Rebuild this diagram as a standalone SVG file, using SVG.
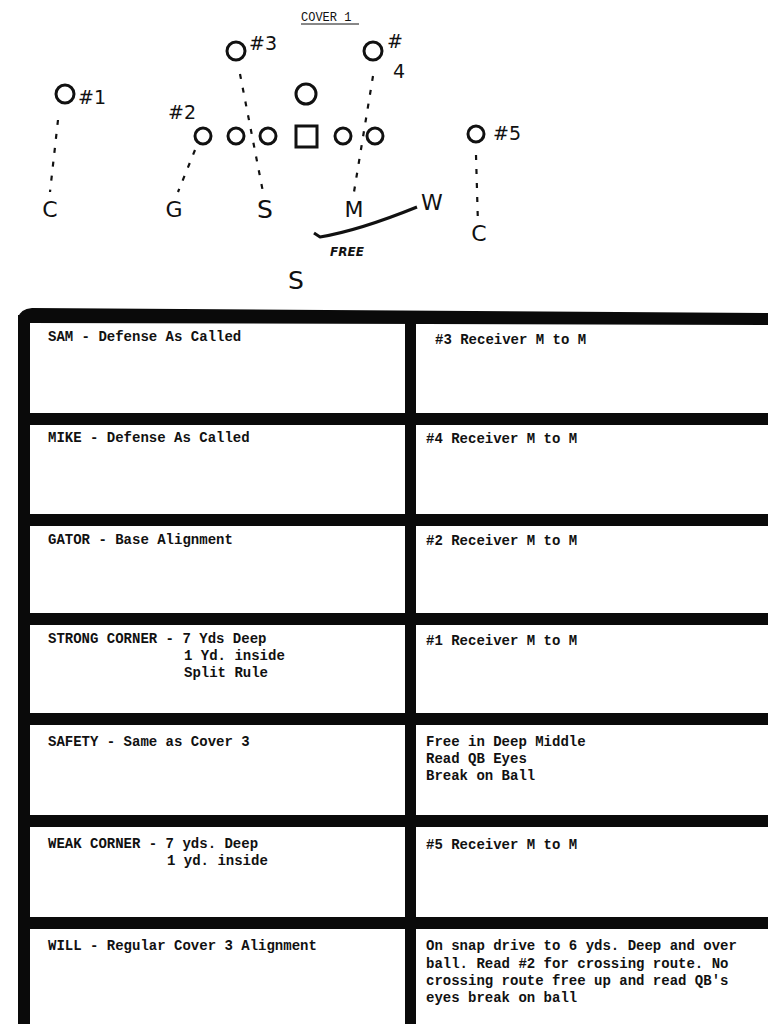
<svg xmlns="http://www.w3.org/2000/svg" width="768" height="1024" viewBox="0 0 768 1024">
<style>
.p{fill:none;stroke:#111;stroke-width:3}
.d{fill:none;stroke:#111;stroke-width:2.2;stroke-dasharray:5 9}
.h{font-family:"DejaVu Sans",sans-serif;font-size:22px;fill:#111}
.t{font-family:"Liberation Mono",monospace;font-size:14px;fill:#111;font-weight:bold}
.b{fill:#0a0a0a}
</style>
<rect width="768" height="1024" fill="#fff"/>
<text x="301" y="21" class="t" style="font-size:12px;font-weight:normal">COVER 1</text>
<line x1="301" y1="24" x2="359" y2="24" stroke="#111" stroke-width="1"/>
<g id="offense">
<circle cx="236" cy="51" r="9" class="p"/><text x="249" y="50" class="h" style="font-size:19px">#3</text>
<circle cx="373" cy="51" r="9" class="p"/><text x="387" y="48" class="h" style="font-size:19px">#</text><text x="393" y="78" class="h" style="font-size:19px">4</text>
<circle cx="65" cy="94" r="9" class="p"/><text x="78" y="104" class="h" style="font-size:19px">#1</text>
<circle cx="306" cy="94" r="10" class="p" stroke-width="4"/>
<text x="168" y="119" class="h" style="font-size:19px">#2</text>
<circle cx="203" cy="136" r="8" class="p"/>
<circle cx="236" cy="136" r="8" class="p"/>
<circle cx="268" cy="136" r="8" class="p"/>
<rect x="296" y="126" width="21" height="21" class="p"/>
<circle cx="343" cy="136" r="8" class="p"/>
<circle cx="375" cy="136" r="8" class="p"/>
<circle cx="476" cy="134" r="8" class="p"/><text x="493" y="140" class="h" style="font-size:19px">#5</text>
</g>
<g id="defense">
<text x="50" y="217" class="h" text-anchor="middle">C</text>
<text x="174" y="217" class="h" text-anchor="middle">G</text>
<text x="265" y="218" class="h" text-anchor="middle" style="font-size:25px">S</text>
<text x="354" y="217" class="h" text-anchor="middle">M</text>
<text x="432" y="210" class="h" text-anchor="middle">W</text>
<text x="479" y="241" class="h" text-anchor="middle">C</text>
<text x="296" y="289" class="h" text-anchor="middle" style="font-size:25px">S</text>
<text x="330" y="256" class="h" style="font-size:12px;font-style:italic;font-weight:bold">FREE</text>
</g>
<g id="connectors">
<path d="M58 120 L50 192" class="d"/>
<path d="M240 74 L263 192" class="d"/>
<path d="M373 76 L354 192" class="d"/>
<path d="M195 150 L178 192" class="d"/>
<path d="M476 155 L478 225" class="d"/>
<path d="M417 207 C380 222 350 232 320 237 L314 233" class="p" stroke-width="2.5"/>
</g>
<g id="table">
<path class="b" d="M18 318 Q20 309 32 308 L768 313 L768 325 L30 323 Z"/>
<rect class="b" x="18" y="315" width="12" height="709"/>
<rect class="b" x="405" y="322" width="11" height="702"/>
<rect class="b" x="18" y="413" width="750" height="12"/>
<rect class="b" x="18" y="514" width="750" height="12"/>
<rect class="b" x="18" y="613" width="750" height="12"/>
<rect class="b" x="18" y="713" width="750" height="12"/>
<rect class="b" x="18" y="815" width="750" height="12"/>
<rect class="b" x="18" y="917" width="750" height="12"/>
</g>
<g id="text">
<text x="48" y="341" class="t">SAM - Defense As Called</text>
<text x="435" y="344" class="t">#3 Receiver M to M</text>
<text x="48" y="442" class="t">MIKE - Defense As Called</text>
<text x="426" y="443" class="t">#4 Receiver M to M</text>
<text x="48" y="544" class="t">GATOR - Base Alignment</text>
<text x="426" y="545" class="t">#2 Receiver M to M</text>
<text x="48" y="643" class="t">STRONG CORNER - 7 Yds Deep</text>
<text x="184" y="660" class="t">1 Yd. inside</text>
<text x="184" y="677" class="t">Split Rule</text>
<text x="426" y="645" class="t">#1 Receiver M to M</text>
<text x="48" y="746" class="t">SAFETY - Same as Cover 3</text>
<text x="426" y="746" class="t">Free in Deep Middle</text>
<text x="426" y="763" class="t">Read QB Eyes</text>
<text x="426" y="780" class="t">Break on Ball</text>
<text x="48" y="848" class="t">WEAK CORNER - 7 yds. Deep</text>
<text x="167" y="865" class="t">1 yd. inside</text>
<text x="426" y="849" class="t">#5 Receiver M to M</text>
<text x="48" y="950" class="t">WILL - Regular Cover 3 Alignment</text>
<text x="426" y="950" class="t">On snap drive to 6 yds. Deep and over</text>
<text x="426" y="968" class="t">ball.  Read #2 for crossing route. No</text>
<text x="426" y="985" class="t">crossing route free up and read QB's</text>
<text x="426" y="1002" class="t">eyes break on ball</text>
</g>
</svg>
